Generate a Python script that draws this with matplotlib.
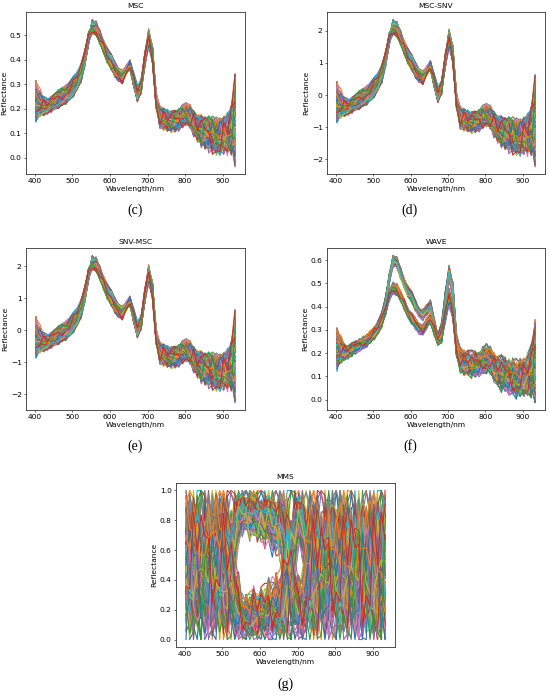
import numpy as np
import matplotlib
matplotlib.use('Agg')
import matplotlib.pyplot as plt

# wavelengths (nm) sampled every 10 nm
wl = [403, 413, 423, 433, 443, 453, 463, 473, 483, 493,
      503, 513, 523, 533, 543, 553, 563, 573, 583, 593,
      603, 613, 623, 633, 643, 653, 663, 673, 683, 693,
      703, 713, 723, 733, 743, 753, 763, 773, 783, 793,
      803, 813, 823, 833, 843, 853, 863, 873, 883, 893,
      903, 913, 923, 933]

# raw spectra, two groups of samples
wave_hi = [0.220, 0.215, 0.205, 0.205, 0.215, 0.225, 0.235, 0.245, 0.255, 0.270,
           0.290, 0.315, 0.350, 0.420, 0.520, 0.595, 0.590, 0.545, 0.500, 0.465,
           0.440, 0.405, 0.375, 0.365, 0.385, 0.405, 0.330, 0.260, 0.300, 0.430,
           0.545, 0.470, 0.250, 0.175, 0.170, 0.165, 0.160, 0.160, 0.165, 0.180,
           0.190, 0.175, 0.150, 0.130, 0.120, 0.115, 0.110, 0.105, 0.100, 0.100,
           0.105, 0.115, 0.130, 0.170]
wave_lo = [0.220, 0.215, 0.205, 0.205, 0.215, 0.225, 0.235, 0.245, 0.255, 0.270,
           0.285, 0.305, 0.335, 0.385, 0.450, 0.480, 0.475, 0.445, 0.410, 0.375,
           0.350, 0.325, 0.305, 0.300, 0.330, 0.350, 0.300, 0.255, 0.275, 0.370,
           0.440, 0.385, 0.220, 0.160, 0.155, 0.150, 0.145, 0.145, 0.150, 0.160,
           0.170, 0.160, 0.135, 0.115, 0.105, 0.100, 0.095, 0.090, 0.085, 0.085,
           0.090, 0.100, 0.115, 0.150]

# spread of the sample band and size of the measurement noise
band = [0.030, 0.025, 0.015, 0.012, 0.012, 0.012, 0.012, 0.012, 0.012, 0.012,
        0.012, 0.012, 0.010, 0.010, 0.010, 0.010, 0.010, 0.010, 0.010, 0.010,
        0.010, 0.010, 0.010, 0.010, 0.010, 0.010, 0.010, 0.010, 0.012, 0.015,
        0.015, 0.015, 0.015, 0.020, 0.020, 0.020, 0.020, 0.020, 0.020, 0.020,
        0.020, 0.020, 0.020, 0.020, 0.020, 0.020, 0.020, 0.020, 0.020, 0.020,
        0.020, 0.020, 0.020, 0.020]
noise = [0.070, 0.040, 0.025, 0.018, 0.018, 0.018, 0.018, 0.018, 0.018, 0.018,
         0.018, 0.016, 0.016, 0.016, 0.018, 0.018, 0.018, 0.016, 0.016, 0.016,
         0.016, 0.016, 0.016, 0.016, 0.016, 0.016, 0.016, 0.016, 0.020, 0.026,
         0.026, 0.026, 0.025, 0.035, 0.035, 0.035, 0.035, 0.035, 0.035, 0.035,
         0.040, 0.040, 0.045, 0.045, 0.055, 0.055, 0.060, 0.060, 0.065, 0.065,
         0.065, 0.075, 0.090, 0.170]

shift = [-1.0, 0.45, -0.7, 0.85, -0.5, 0.12, -0.3, 0.62, -0.85, 0.28,
         -0.12, 0.92, -0.6, 0.05, -0.4, 0.7, -0.2, 0.35, -0.05, 1.0,
         -0.92, 0.55, 0.2, -0.28]
jitter = [0.62, -0.91, 0.15, -0.37, 0.88, -0.05, -0.72, 0.41, -0.18, 0.97,
          -0.56, 0.29, -0.83, 0.07, 0.53, -0.99, 0.34, -0.24, 0.76, -0.63,
          0.20, -0.46, 0.92, -0.11]

n = len(shift)
rows = []
for rep in range(3):
    for g, base in enumerate([wave_hi, wave_lo]):
        for i in range(n):
            k = 7 * i + 11 * g + 3 * rep
            rows.append([base[j] + shift[(i + 5 * rep) % n] * band[j]
                         + jitter[(k + (5 + 2 * rep) * j) % n] * noise[j]
                         for j in range(len(wl))])
raw = np.array(rows)


def msc(X):
    ref = X.mean(axis=0)
    out = np.empty_like(X)
    for i in range(len(X)):
        b, a = np.polyfit(ref, X[i], 1)
        out[i] = (X[i] - a) / b
    return out


def snv(X):
    return (X - X.mean(axis=1, keepdims=True)) / X.std(axis=1, keepdims=True)


def mms(X):
    lo = X.min(axis=0)
    hi = X.max(axis=0)
    return (X - lo) / (hi - lo)


W, H = 550, 697
fig = plt.figure(figsize=(W / 100, H / 100), dpi=100)
FS = 5.4


def panel(box, Y, title):
    l, t, r, b = box
    ax = fig.add_axes([l / W, 1 - b / H, (r - l) / W, (b - t) / H])
    ax.plot(wl, Y.T, lw=0.8)
    ax.set_title(title, fontsize=FS, pad=2.6)
    ax.set_xlabel('Wavelength/nm', fontsize=FS, labelpad=1.2)
    ax.set_ylabel('Reflectance', fontsize=FS, labelpad=1.6)
    ax.tick_params(labelsize=FS, length=1.6, width=0.4, pad=1.5)
    ax.set_xticks([400, 500, 600, 700, 800, 900])
    for s in ax.spines.values():
        s.set_linewidth(0.6)
        s.set_color('#333333')
    return ax


panel((26, 12, 245, 174), msc(raw), 'MSC')
panel((327, 12, 545, 174), snv(msc(raw)), 'MSC-SNV')
panel((26, 248, 245, 410), msc(snv(raw)), 'SNV-MSC')
panel((327, 248, 545, 410), raw, 'WAVE')
panel((176, 483, 395, 647), mms(raw), 'MMS')

labels = ['(c)', '(d)', '(e)', '(f)', '(g)']
label_xy = [(135, 210), (410, 210), (135, 446), (410, 446), (285, 684)]
for txt, (x, y) in zip(labels, label_xy):
    fig.text(x / W, 1 - y / H, txt, ha='center', va='center',
             fontsize=10, family='Liberation Serif')

fig.savefig('out.png', dpi=100)
